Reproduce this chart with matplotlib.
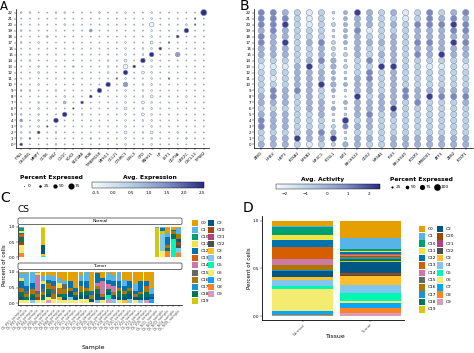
import numpy as np
import matplotlib.pyplot as plt
from matplotlib.colors import LinearSegmentedColormap, Normalize
from matplotlib.cm import ScalarMappable
from matplotlib.patches import FancyBboxPatch, Rectangle

W, H = 474, 353

# ---------------- data ----------------
row_labels = [str(i) for i in range(23)]

genes_a = ["IFNG", "OSGIN1", "MMP7", "CCR6", "GNLY", "C1QC", "SOX2", "S100A8", "PKIB",
           "TMEM158", "MYH11", "CCL21", "CTHRC1", "INSL3", "CFD", "SNHG1", "HP", "LEF1",
           "CD79A", "UBE2C", "CXCL13", "TPSB2"]
# size level / colour level per cluster row (0..22), one char per gene
size_a = [
    "2000100000001001000000",
    "1100000010001001000100",
    "1120100000002012001000",
    "1011000000001001000000",
    "2010300000001011000000",
    "1010030100001021000000",
    "0010001000002011000000",
    "0010020200001021000000",
    "0000010020001012000100",
    "1100100003001011000000",
    "0010000000303011000000",
    "0000000000011001010000",
    "0010000000103021000000",
    "0010001000103201000000",
    "0100000000102031000000",
    "0000000000001013003000",
    "0000000000001011200000",
    "1010000000001002010000",
    "0001000000000001002000",
    "1000000020000001000300",
    "0000010000000003000110",
    "0000000000000001000010",
    "1100110001001001000004",
]
col_a = [
    "4111111111110110111111",
    "1411111121110110111211",
    "1141111111110110111111",
    "1114111111110110111111",
    "3111411111110100111111",
    "1111141011110100111111",
    "1111114111110100111111",
    "1111121411110100111111",
    "1111111141110100111011",
    "2111011114110100111111",
    "1111111111413100111111",
    "1111111111140110141111",
    "1111111111014100111111",
    "1111112111010410111111",
    "1111111111010140111111",
    "1111111111110104113111",
    "1111111111110100411111",
    "1101111111110110141111",
    "1112111111111110114111",
    "1111111131111110111411",
    "1111111111111110111141",
    "1111111111111110111141",
    "1111111111110110111114",
]
pct_a = [6, 14, 30, 55, 75]
expr_a = [-0.5, 0.0, 0.7, 1.3, 2.5]

genes_b = ["ZEB1", "HHEX", "HBP1", "FOXA2", "NFKB2", "NR3C1", "FOSL1", "WT1", "BHLHE22",
           "CDX2", "NR5A1", "IRX3", "BHLHE40", "FOXP2", "HMBOX1", "ATF3", "ZEB2", "FOXP1"]
size_b = [
    "444444234444444444",
    "444444414444444444",
    "444444314444444444",
    "444444234444444444",
    "444444144444444444",
    "444444114444444444",
    "444444214444444444",
    "444444124444444444",
    "444444104444444444",
    "444444214444444444",
    "444444324444444444",
    "444444214444444444",
    "444444214444444444",
    "444444324444444444",
    "444444314444444444",
    "444444224444444444",
    "444444214444444444",
    "444444224444444444",
    "444444124444444444",
    "444444124444444444",
    "444444224444444444",
    "444444024444444444",
    "444444124444444444",
]
col_b = [
    "222101122112222222",
    "122422412212222222",
    "111123211111111111",
    "322111132211111111",
    "322111141211111111",
    "222112112312111111",
    "111122212224111111",
    "222122122222131112",
    "232121114122324333",
    "132321212212322222",
    "111224222212111111",
    "101222222312111111",
    "111222211312111111",
    "000241211144110010",
    "111123211312111111",
    "222112112122132422",
    "222112112112122222",
    "324123122222133243",
    "322111122112122222",
    "232111123011122233",
    "334101122212133343",
    "333101022211013232",
    "332101124212013123",
]
pct_b = [15, 35, 55, 78, 92]
act_b = [-1.8, -0.9, 0.0, 1.0, 2.2]

levels = ["C0", "C1", "C10", "C11", "C12", "C13", "C14", "C15", "C16", "C17", "C18", "C19",
          "C2", "C20", "C21", "C22", "C3", "C4", "C5", "C6", "C7", "C8", "C9"]
palette = ["#E69F00", "#56B4E9", "#009E73", "#F0E442", "#0072B2", "#D55E00", "#CC79A7",
           "#666666", "#AD7700", "#1C91D4", "#007756", "#D5C711", "#005685", "#A04700",
           "#B14380", "#4D4D4D", "#FFBE2D", "#80C7EF", "#00F6B3", "#F4EB71", "#06A5FF",
           "#FF8320", "#D99BBD"]

samples = ["CS_P01_sample", "CS_P02_sample", "CS_P03_sample", "CS_P04_sample", "CS_P05_sample",
           "CS_P06_sample", "CS_P07_sample", "CS_P08_sample", "CS_P09_sample", "CS_P10_sample",
           "CS_P11_sample", "CS_P12_sample", "CS_P13_sample", "CS_P14_sample", "CS_P15_sample",
           "CS_P16_sample", "CS_P17_sample", "CS_P18_sample", "CS_P19_sample", "CS_P20_sample",
           "CS_P21_sample", "CS_P22_sample", "CS_P23_sample", "CS_P24_sample", "CS_P25_sample",
           "CS_N01_sample", "CS_N02_sample", "CS_N03_sample", "CS_N04_sample", "CS_N05_sample"]

normal_idx = [0, 4, 25, 26, 27, 28, 29]
normal_comp = [
    {"C1": .05, "C10": .1, "C12": .05, "C13": .1, "C18": .15, "C20": .1, "C11": .05, "C6": .25, "C8": .15},
    {"C19": .55, "C2": .3, "C11": .05, "C3": .05, "C5": .05},
    {"C1": .05, "C19": .95},
    {"C12": .1, "C1": .05, "C4": .55, "C19": .1, "C6": .2},
    {"C0": .2, "C1": .15, "C12": .25, "C16": .1, "C18": .1, "C8": .2},
    {"C0": .1, "C12": .05, "C16": .1, "C18": .15, "C5": .6},
    {"C0": .05, "C1": .2, "C16": .15, "C2": .1, "C20": .1, "C22": .1, "C4": .15, "C8": .15},
]
tumor_idx = list(range(25))
tumor_comp = [
    {"C0": .05, "C1": .15, "C12": .2, "C2": .1, "C18": .15, "C16": .1, "C13": .05, "C11": .1, "C6": .1},
    {"C0": .05, "C1": .4, "C12": .15, "C15": .1, "C16": .1, "C18": .1, "C6": .1},
    {"C1": .35, "C12": .2, "C16": .15, "C18": .1, "C2": .1, "C4": .1},
    {"C0": .05, "C11": .05, "C14": .5, "C15": .1, "C16": .1, "C20": .1, "C6": .1},
    {"C0": .15, "C1": .15, "C12": .15, "C15": .1, "C18": .15, "C16": .1, "C11": .1, "C6": .1},
    {"C0": .1, "C1": .15, "C16": .2, "C18": .15, "C12": .1, "C2": .1, "C6": .1, "C9": .1},
    {"C0": .15, "C1": .15, "C12": .15, "C15": .15, "C16": .15, "C13": .1, "C6": .15},
    {"C0": .2, "C1": .15, "C16": .2, "C18": .1, "C11": .15, "C3": .1, "C6": .1},
    {"C0": .3, "C1": .1, "C15": .15, "C16": .15, "C18": .1, "C2": .1, "C6": .1},
    {"C0": .3, "C12": .2, "C2": .2, "C16": .1, "C4": .1, "C6": .1},
    {"C0": .5, "C12": .15, "C16": .1, "C18": .05, "C2": .1, "C6": .1},
    {"C0": .1, "C1": .2, "C16": .2, "C12": .15, "C18": .1, "C2": .1, "C6": .15},
    {"C1": .3, "C12": .2, "C18": .15, "C16": .1, "C2": .1, "C6": .15},
    {"C0": .6, "C12": .15, "C16": .1, "C2": .1, "C6": .05},
    {"C0": .05, "C12": .3, "C14": .1, "C16": .1, "C18": .15, "C2": .2, "C4": .1},
    {"C0": .2, "C14": .4, "C12": .1, "C16": .1, "C2": .1, "C6": .1},
    {"C0": .05, "C1": .2, "C14": .15, "C12": .15, "C18": .1, "C2": .1, "C5": .1, "C9": .15},
    {"C0": .1, "C1": .2, "C14": .2, "C12": .15, "C16": .1, "C2": .1, "C4": .15},
    {"C1": .3, "C12": .2, "C18": .2, "C16": .1, "C2": .1, "C6": .1},
    {"C0": .25, "C1": .2, "C12": .15, "C16": .1, "C18": .1, "C2": .1, "C3": .1},
    {"C0": .3, "C12": .2, "C16": .1, "C18": .1, "C2": .15, "C4": .15},
    {"C0": .4, "C1": .2, "C16": .1, "C12": .1, "C2": .1, "C6": .1},
    {"C0": .3, "C12": .35, "C18": .1, "C16": .05, "C2": .1, "C4": .1},
    {"C0": .3, "C16": .15, "C18": .15, "C12": .15, "C13": .05, "C2": .1, "C9": .1},
    {"C0": .5, "C1": .2, "C12": .1, "C2": .05, "C7": .15},
]

tissues = ["Normal", "Tumor"]
tissue_comp = [
    {"C0": .06, "C1": .004, "C10": .082, "C11": .06, "C12": .07, "C13": .124, "C14": .067,
     "C15": .005, "C16": .053, "C17": .004, "C2": .064, "C3": .035, "C4": .064, "C5": .032,
     "C6": .23, "C7": .046, "C8": .004, "C9": .004},
    {"C0": .177, "C1": .113, "C10": .018, "C11": .018, "C12": .014, "C13": .008, "C14": .012,
     "C15": .012, "C16": .015, "C17": .01, "C18": .02, "C19": .005, "C2": .117, "C20": .018,
     "C21": .005, "C22": .005, "C3": .096, "C4": .078, "C5": .082, "C6": .025, "C7": .053,
     "C8": .046, "C9": .035},
]

# ---------------- helpers ----------------
def px(x0, y0, x1, y1):
    return [x0 / W, 1 - y1 / H, (x1 - x0) / W, (y1 - y0) / H]

cmap = LinearSegmentedColormap.from_list("dot", ["#f3fafd", "#b6cfe4", "#8191c6", "#2b2b85"])

def dot_size(p, pmax, dmax):
    d = 0.5 + dmax * p / pmax
    return d * d

def dotplot(ax, genes, sizes, cols, pcts, vals, norm, pmax, dmax):
    xs, ys, ss, cc = [], [], [], []
    for r in range(len(sizes)):
        for c in range(len(genes)):
            xs.append(c)
            ys.append(r)
            ss.append(dot_size(pcts[int(sizes[r][c])], pmax, dmax))
            cc.append(cmap(norm(vals[int(cols[r][c])])))
    ax.scatter(xs, ys, s=ss, c=cc, edgecolors="#8c93b0", linewidths=0.4, zorder=3)
    ax.set_xlim(-0.6, len(genes) - 0.4)
    ax.set_ylim(-0.6, len(sizes) - 0.4)
    ax.set_xticks(range(len(genes)))
    ax.set_xticklabels(genes, rotation=45, ha="right", rotation_mode="anchor", fontsize=2.8)
    ax.set_yticks(range(len(sizes)))
    ax.set_yticklabels(row_labels, fontsize=2.8)
    ax.tick_params(length=1.2, width=0.3, pad=1)
    for s in ["top", "right"]:
        ax.spines[s].set_visible(False)
    for s in ["left", "bottom"]:
        ax.spines[s].set_linewidth(0.5)

def stacked(ax, xpos, comps, width):
    for x, comp in zip(xpos, comps):
        tot = sum(comp.values())
        bottom = 0.0
        for lev in reversed(levels):
            v = comp.get(lev, 0) / tot
            if v > 0:
                ax.bar(x, v, width=width, bottom=bottom, color=palette[levels.index(lev)], linewidth=0)
                bottom += v

# ---------------- figure ----------------
fig = plt.figure(figsize=(W / 100, H / 100), dpi=100)

norm_a = Normalize(-0.6, 2.55)
ax_a = fig.add_axes(px(16, 9, 209, 148))
dotplot(ax_a, genes_a, size_a, col_a, pct_a, expr_a, norm_a, 75, 3.9)

norm_b = Normalize(-2.43, 2.52)
ax_b = fig.add_axes(px(254, 9, 473, 148))
dotplot(ax_b, genes_b, size_b, col_b, pct_b, act_b, norm_b, 100, 4.3)

# colourbars
cax_a = fig.add_axes(px(92, 182, 204, 188))
cb = fig.colorbar(ScalarMappable(norm_a, cmap), cax=cax_a, orientation="horizontal",
                  ticks=[-0.5, 0.0, 0.5, 1.0, 1.5, 2.0, 2.5])
cb.ax.set_xticklabels(["-0.5", "0.0", "0.5", "1.0", "1.5", "2.0", "2.5"])
cb.ax.tick_params(labelsize=3, length=1.5, width=0.3, pad=1, color="white")
cb.outline.set_linewidth(0.3)

cax_b = fig.add_axes(px(276, 184, 380, 189))
cb = fig.colorbar(ScalarMappable(norm_b, cmap), cax=cax_b, orientation="horizontal",
                  ticks=[-2, -1, 0, 1, 2])
cb.ax.set_xticklabels(["\u22122", "\u22121", "0", "1", "2"])
cb.ax.tick_params(labelsize=3, length=1.5, width=0.3, pad=1, color="white")
cb.outline.set_linewidth(0.3)

# panel C
ax_n = fig.add_axes(px(18, 225, 182, 259))
ax_t = fig.add_axes(px(18, 270, 182, 305))
stacked(ax_n, normal_idx, normal_comp, 0.9)
stacked(ax_t, tumor_idx, tumor_comp, 0.9)
for ax in [ax_n, ax_t]:
    ax.set_xlim(-0.6, len(samples) - 0.4)
    ax.set_ylim(-0.05, 1.05)
    ax.set_yticks([0, 0.5, 1.0])
    ax.set_yticklabels(["0.0", "0.5", "1.0"], fontsize=3)
    ax.tick_params(length=1.2, width=0.3, pad=1)
    for s in ["top", "right"]:
        ax.spines[s].set_visible(False)
    for s in ["left", "bottom"]:
        ax.spines[s].set_linewidth(0.5)
ax_n.set_xticks([])
ax_n.spines["bottom"].set_visible(False)
ax_t.set_xticks(range(len(samples)))
ax_t.set_xticklabels(samples, rotation=45, ha="right", rotation_mode="anchor", fontsize=2.6,
                     color="#555555")

# panel D
ax_d = fig.add_axes(px(262, 216, 404, 320))
stacked(ax_d, [1, 2], tissue_comp, 0.9)
ax_d.set_xlim(0.4, 2.5)
ax_d.set_ylim(-0.04, 1.05)
ax_d.set_yticks([0, 0.5, 1.0])
ax_d.set_yticklabels(["0.0", "0.5", "1.0"], fontsize=3)
ax_d.set_xticks([1, 2])
ax_d.set_xticklabels(tissues, rotation=45, ha="right", rotation_mode="anchor", fontsize=3,
                     color="#555555")
ax_d.tick_params(length=1.2, width=0.3, pad=1)
for s in ["top", "right"]:
    ax_d.spines[s].set_visible(False)
for s in ["left", "bottom"]:
    ax_d.spines[s].set_linewidth(0.6)

# overlay in pixel coordinates for legends and labels
ov = fig.add_axes([0, 0, 1, 1], facecolor="none")
ov.set_xlim(0, W)
ov.set_ylim(H, 0)
ov.axis("off")

ov.text(0, 6, "A", fontsize=8.5, va="center", ha="left")
ov.text(240, 5.5, "B", fontsize=10, va="center", ha="left")
ov.text(0, 198, "C", fontsize=10, va="center", ha="left")
ov.text(243, 208, "D", fontsize=10, va="center", ha="left")
ov.text(18, 210, "CS", fontsize=6.5, va="center", ha="left")

ov.text(51, 178, "Percent Expressed", fontsize=4.3, fontweight="bold", ha="center", va="center")
ov.text(150, 178, "Avg. Expression", fontsize=4.3, fontweight="bold", ha="center", va="center")
for x, p in zip([24, 40, 55, 71], [0, 25, 50, 75]):
    ov.scatter(x, 186, s=dot_size(p, 75, 3.9), color="black", linewidths=0)
    ov.text(x + 4, 186, str(p), fontsize=3.2, va="center", ha="left")

ov.text(323, 179, "Avg. Activity", fontsize=4.3, fontweight="bold", ha="center", va="center")
ov.text(421, 179, "Percent Expressed", fontsize=4.3, fontweight="bold", ha="center", va="center")
for x, p in zip([392, 407, 422, 437], [25, 50, 75, 100]):
    ov.scatter(x, 187, s=dot_size(p, 100, 4.3), color="black", linewidths=0)
    ov.text(x + 3.5, 187, str(p), fontsize=3.2, va="center", ha="left")

# facet strips
for y0, y1, lab in [(218, 224.5, "Normal"), (263, 269.5, "Tumor")]:
    ov.add_patch(FancyBboxPatch((18, y0), 164, y1 - y0, boxstyle="round,pad=0,rounding_size=1.5",
                                facecolor="white", edgecolor="#555555", linewidth=0.6))
    ov.text(100, (y0 + y1) / 2, lab, fontsize=3.2, ha="center", va="center")

ov.text(5, 265, "Percent of cells", fontsize=4, rotation=90, ha="center", va="center")
ov.text(93, 348, "Sample", fontsize=4.5, ha="center", va="center")
ov.text(250, 268, "Percent of cells", fontsize=4, rotation=90, ha="center", va="center")
ov.text(336, 337, "Tissue", fontsize=4.5, ha="center", va="center")

# cluster legends
def cluster_legend(x1, x2, y0, dy, sq):
    for i, lev in enumerate(levels):
        col = 0 if i < 12 else 1
        row = i if i < 12 else i - 12
        x = x1 if col == 0 else x2
        y = y0 + row * dy
        ov.add_patch(Rectangle((x, y - sq / 2), sq, sq, facecolor=palette[i], linewidth=0))
        ov.text(x + sq + 2.5, y, lev, fontsize=3.2, va="center", ha="left")

cluster_legend(192, 208, 222.7, 7.12, 6)
cluster_legend(419, 437, 229, 7.3, 6.5)

fig.savefig("out.png", dpi=100)
